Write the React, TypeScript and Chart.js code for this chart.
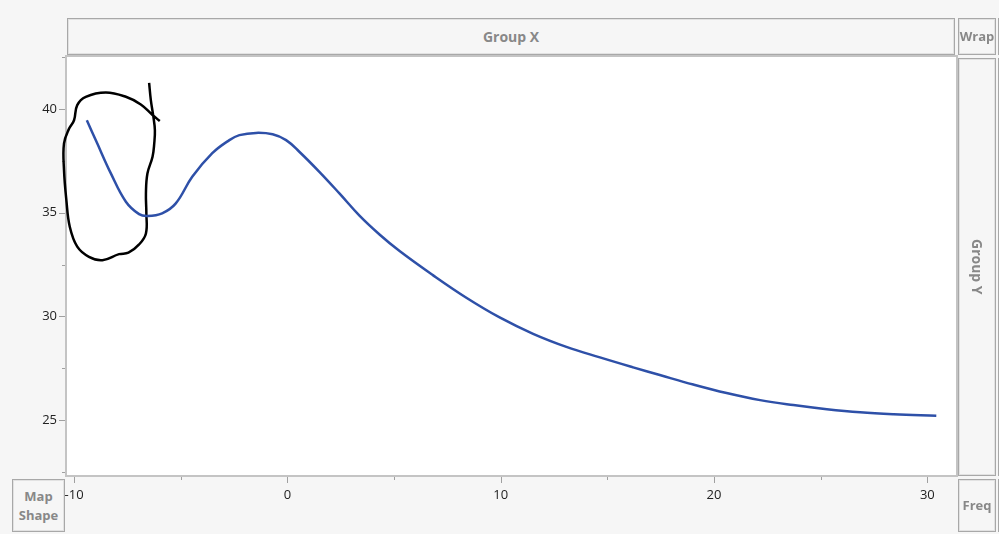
import React, { useEffect, useRef } from "react";
import { Chart, registerables } from "chart.js";

Chart.register(...registerables);

// Fitted curve (blue)
const curveX = [-9.4, -8.92, -8.28, -7.57, -6.95, -6.56, -5.87, -5.23, -4.46, -3.52, -2.72, -2.25, -1.47, -0.69, -0.06, 0.56, 1.5, 2.44, 3.38, 4.32, 5.26, 6.82, 8.39, 9.95, 11.52, 13.08, 14.65, 16.21, 17.46, 19.03, 20.59, 22.16, 23.72, 25.29, 26.85, 28.42, 30.42];
const curveY = [39.46, 38.36, 36.91, 35.53, 34.93, 34.84, 34.97, 35.45, 36.73, 37.87, 38.5, 38.74, 38.85, 38.78, 38.5, 37.94, 36.97, 35.93, 34.86, 33.95, 33.15, 31.99, 30.9, 29.95, 29.16, 28.53, 28.02, 27.54, 27.17, 26.71, 26.3, 25.96, 25.72, 25.52, 25.37, 25.28, 25.21];

// Hand-drawn annotation loop (black)
const loopX = [-6.48, -6.4, -6.28, -6.21, -6.24, -6.32, -6.56, -6.63, -6.61, -6.63, -6.95, -7.45, -7.89, -8.67, -9.3, -9.85, -10.2, -10.36, -10.47, -10.47, -10.23, -10.0, -9.85, -9.45, -8.51, -7.57, -6.87, -6.32, -5.98];
const loopY = [41.26, 40.43, 39.62, 38.98, 38.34, 37.7, 36.89, 35.93, 34.97, 34.0, 33.47, 33.07, 33.0, 32.71, 32.87, 33.36, 34.32, 35.61, 37.05, 38.34, 39.06, 39.46, 40.19, 40.59, 40.8, 40.59, 40.22, 39.71, 39.42];

const xTicks = [-10, -5, 0, 5, 10, 15, 20, 25, 30];
const yTicks = [22.5, 25, 27.5, 30, 32.5, 35, 37.5, 40, 42.5];
const xMin = -10.33;
const xMax = 31.39;
const yMin = 22.3;
const yMax = 42.51;

const FONT = "'Open Sans', 'Noto Sans', 'DejaVu Sans', sans-serif";

const framePlugin = {
  id: "frame",
  beforeDatasetsDraw(chart: any) {
    const { ctx, chartArea } = chart;
    const { left, top, right, bottom } = chartArea;
    ctx.save();
    ctx.fillStyle = "#ffffff";
    ctx.fillRect(left, top, right - left, bottom - top);
    ctx.strokeStyle = "#c4c4c4";
    ctx.lineWidth = 2;
    ctx.strokeRect(left - 1, top - 1, right - left + 1, bottom - top + 1);
    // tick marks
    ctx.strokeStyle = "#a0a0a0";
    ctx.lineWidth = 1;
    const xs = chart.scales.x;
    const ys = chart.scales.y;
    xTicks.forEach((v) => {
      const px = Math.round(xs.getPixelForValue(v)) + 0.5;
      const len = v % 10 === 0 ? 6 : 3;
      ctx.beginPath();
      ctx.moveTo(px, bottom + 1);
      ctx.lineTo(px, bottom + 1 + len);
      ctx.stroke();
    });
    yTicks.forEach((v) => {
      const py = Math.round(ys.getPixelForValue(v)) + 0.5;
      const len = v % 5 === 0 ? 6 : 3;
      ctx.beginPath();
      ctx.moveTo(left - 2, py);
      ctx.lineTo(left - 2 - len, py);
      ctx.stroke();
    });
    ctx.restore();
  },
};

const boxStyle: React.CSSProperties = {
  position: "absolute",
  boxSizing: "border-box",
  border: "1px solid #a8a8a8",
  boxShadow: "inset 0 0 0 1px #e2e2e2",
  background: "#f6f6f6",
  color: "#888888",
  fontFamily: FONT,
  fontWeight: 700,
  fontSize: 14,
  display: "flex",
  alignItems: "center",
  justifyContent: "center",
  textAlign: "center",
  lineHeight: "19px",
};

export default function App() {
  const canvasRef = useRef<HTMLCanvasElement | null>(null);

  useEffect(() => {
    const canvas = canvasRef.current;
    if (!canvas) return;
    const chart = new Chart(canvas, {
      type: "scatter",
      data: {
        datasets: [
          {
            label: "Curve",
            data: curveX.map((x, i) => ({ x, y: curveY[i] })),
            showLine: true,
            borderColor: "#2e50a8",
            borderWidth: 2.5,
            pointRadius: 0,
            tension: 0.4,
          } as any,
          {
            label: "Annotation",
            data: loopX.map((x, i) => ({ x, y: loopY[i] })),
            showLine: true,
            borderColor: "#000000",
            borderWidth: 2.5,
            pointRadius: 0,
            tension: 0.4,
            clip: false,
          } as any,
        ],
      },
      options: {
        responsive: false,
        animation: false,
        devicePixelRatio: 1,
        layout: { padding: { left: 0, top: 57, right: 42, bottom: 0 } },
        plugins: { legend: { display: false }, tooltip: { enabled: false } },
        scales: {
          x: {
            type: "linear",
            min: xMin,
            max: xMax,
            grid: { display: false, drawTicks: false },
            border: { display: false },
            afterBuildTicks: (s: any) => {
              s.ticks = xTicks.map((v) => ({ value: v }));
            },
            afterFit: (s: any) => {
              s.height = 58;
            },
            ticks: {
              autoSkip: false,
              maxRotation: 0,
              padding: 11,
              color: "#222222",
              font: { family: FONT, size: 13 },
              callback: (v: any) => (Number(v) % 10 === 0 ? String(v) : ""),
            },
          },
          y: {
            type: "linear",
            min: yMin,
            max: yMax,
            grid: { display: false, drawTicks: false },
            border: { display: false },
            afterBuildTicks: (s: any) => {
              s.ticks = yTicks.map((v) => ({ value: v }));
            },
            afterFit: (s: any) => {
              s.width = 67;
            },
            ticks: {
              autoSkip: false,
              padding: 10,
              color: "#222222",
              font: { family: FONT, size: 13 },
              callback: (v: any) => (Number(v) % 5 === 0 ? String(v) : ""),
            },
          },
        },
      },
      plugins: [framePlugin],
    });
    return () => chart.destroy();
  }, []);

  return (
    <div
      style={{
        position: "absolute",
        left: 0,
        top: 0,
        width: 999,
        height: 534,
        background: "#f6f6f6",
        overflow: "hidden",
      }}
    >
      <canvas
        ref={canvasRef}
        width={999}
        height={534}
        style={{ position: "absolute", left: 0, top: 0, width: 999, height: 534 }}
      />
      <div style={{ ...boxStyle, left: 67, top: 18, width: 888, height: 37 }}>Group X</div>
      <div style={{ ...boxStyle, left: 958, top: 18, width: 38, height: 37, fontSize: 13 }}>Wrap</div>
      <div style={{ ...boxStyle, left: 998, top: 18, width: 20, height: 37 }}></div>
      <div
        style={{ ...boxStyle, left: 958, top: 58, width: 38, height: 418 }}
      >
        <span style={{ writingMode: "vertical-rl" }}>Group Y</span>
      </div>
      <div style={{ ...boxStyle, left: 998, top: 58, width: 20, height: 418 }}></div>
      <div style={{ ...boxStyle, left: 958, top: 479, width: 38, height: 53, fontSize: 13 }}>Freq</div>
      <div style={{ ...boxStyle, left: 998, top: 479, width: 20, height: 53 }}></div>
      <div style={{ ...boxStyle, left: 12, top: 479, width: 53, height: 53, fontSize: 13 }}>
        Map
        <br />
        Shape
      </div>
    </div>
  );
}
